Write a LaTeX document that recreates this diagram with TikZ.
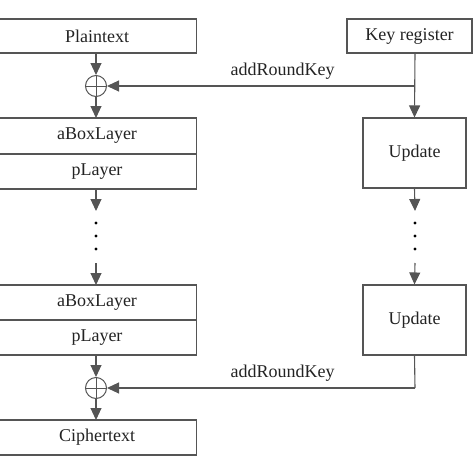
\documentclass[tikz,border=0pt]{standalone}
\usepackage{fontspec}
\setmainfont{Liberation Serif}
\usetikzlibrary{arrows.meta}

\definecolor{linegray}{RGB}{85,85,85}
\definecolor{textgray}{RGB}{35,35,35}

\tikzset{
    block/.style={draw=linegray, line width=1.1pt, minimum width=199pt, inner sep=0pt, text=textgray},
    keyblock/.style={draw=linegray, line width=1.1pt, inner sep=0pt, text=textgray},
    xorgate/.style={draw=linegray, line width=1pt, circle, minimum size=21pt, inner sep=0pt,
        path picture={\draw[linegray, line width=0.8pt]
            (path picture bounding box.north) -- (path picture bounding box.south)
            (path picture bounding box.west) -- (path picture bounding box.east);}},
    flow/.style={draw=linegray, line width=1.1pt, -{Triangle[length=12pt,width=11pt]}},
    wire/.style={draw=linegray, line width=1.1pt},
    dot/.style={fill=black, circle, inner sep=0pt, minimum size=3.2pt},
}

\begin{document}
\begin{tikzpicture}[x=1pt, y=-1pt, font=\fontsize{18}{21}\selectfont]
    \useasboundingbox (0,0) rectangle (474,474);

    % left column
    \node[block, minimum height=34pt] (plain) at (97,36) {Plaintext};
    \node[xorgate] (xa) at (96,86) {};
    \node[block, minimum height=36pt] (sboxa) at (97,136) {aBoxLayer};
    \node[block, minimum height=35pt] (playa) at (97,171.5) {pLayer};
    \node[dot] (la) at (96,223) {};
    \node[dot] (lb) at (96,236) {};
    \node[dot] (lc) at (96,249) {};
    \node[block, minimum height=35pt] (sboxb) at (97,302.5) {aBoxLayer};
    \node[block, minimum height=35pt] (playb) at (97,337.5) {pLayer};
    \node[xorgate] (xb) at (96,388) {};
    \node[block, minimum height=35pt] (cipher) at (97,437.5) {Ciphertext};

    % right column
    \node[keyblock, minimum width=125pt, minimum height=34pt] (key) at (409.5,36) {Key register};
    \node[keyblock, minimum width=103pt, minimum height=70pt] (upda) at (414.5,153) {Update};
    \node[dot] (ra) at (415,223) {};
    \node[dot] (rb) at (415,236) {};
    \node[dot] (rc) at (415,249) {};
    \node[keyblock, minimum width=103pt, minimum height=70pt] (updb) at (414.5,320) {Update};

    \coordinate (ka) at (415,86);
    \coordinate (kb) at (415,388);

    % data path
    \draw[flow] (96,53) -- (xa);
    \draw[flow] (xa) -- (96,118);
    \draw[flow] (96,189) -- (96,211);
    \draw[flow] (96,263) -- (96,285);
    \draw[flow] (96,355) -- (xb);
    \draw[flow] (xb) -- (96,420);

    % key path
    \draw[flow] (415,53) -- (upda.north);
    \draw[flow] (ka) -- node[pos=0.43, above=3pt, text=textgray] {addRoundKey} (xa);
    \draw[flow] (upda.south) -- (415,211);
    \draw[flow] (415,263) -- (updb.north);
    \draw[wire] (updb.south) -- (kb);
    \draw[flow] (kb) -- node[pos=0.43, above=3pt, text=textgray] {addRoundKey} (xb);
\end{tikzpicture}
\end{document}
